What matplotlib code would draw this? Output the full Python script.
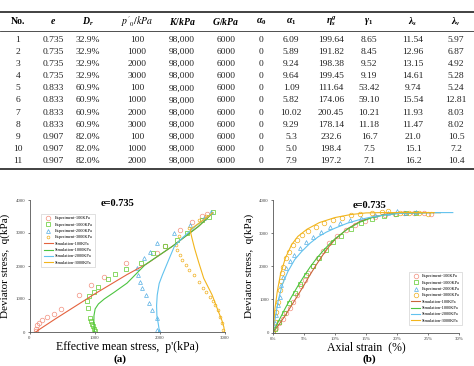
import matplotlib
matplotlib.use("Agg")
import matplotlib.pyplot as plt
from matplotlib.lines import Line2D

plt.rcParams['font.family'] = ['Liberation Serif', 'DejaVu Serif']
plt.rcParams['mathtext.fontset'] = 'custom'
plt.rcParams['mathtext.it'] = 'Liberation Serif:italic:bold'
plt.rcParams['mathtext.rm'] = 'Liberation Serif:bold'
plt.rcParams['mathtext.bf'] = 'Liberation Serif:bold'

# ---------------- table data ----------------
headers = ["No.", r"$e$", r"$D_r$", r"$p'_{0}/kPa$", r"$K/kPa$", r"$G/kPa$",
           r"$\alpha_0$", r"$\alpha_1$", r"$\eta_s^g$", r"$\gamma_1$", r"$\lambda_s$", r"$\lambda_v$"]
col_no = ["1", "2", "3", "4", "5", "6", "7", "8", "9", "10", "11"]
col_e = ["0.735", "0.735", "0.735", "0.735", "0.833", "0.833", "0.833", "0.833", "0.907", "0.907", "0.907"]
col_Dr = ["32.9%", "32.9%", "32.9%", "32.9%", "60.9%", "60.9%", "60.9%", "60.9%", "82.0%", "82.0%", "82.0%"]
col_p0 = ["100", "1000", "2000", "3000", "100", "1000", "2000", "3000", "100", "1000", "2000"]
col_K = ["98,000"] * 11
col_G = ["6000"] * 11
col_a0 = ["0"] * 11
col_a1 = ["6.09", "5.89", "9.24", "9.64", "1.09", "5.82", "10.02", "9.29", "5.3", "5.0", "7.9"]
col_eta = ["199.64", "191.82", "198.38", "199.45", "111.64", "174.06", "200.45", "178.14", "232.6", "198.4", "197.2"]
col_g1 = ["8.65", "8.45", "9.52", "9.19", "53.42", "59.10", "10.21", "11.18", "16.7", "7.5", "7.1"]
col_ls = ["11.54", "12.96", "13.15", "14.61", "9.74", "15.54", "11.93", "11.47", "21.0", "15.1", "16.2"]
col_lv = ["5.97", "6.87", "4.92", "5.28", "5.24", "12.81", "8.03", "8.02", "10.5", "7.2", "10.4"]
columns = [col_no, col_e, col_Dr, col_p0, col_K, col_G, col_a0, col_a1, col_eta, col_g1, col_ls, col_lv]

# ---------------- (a) stress path data ----------------
exp100_p = [100, 105, 115, 140, 190, 270, 370, 480, 760, 950, 1150, 1480, 1960, 2080, 2320, 2500, 2650, 2730]
exp100_q = [30, 100, 200, 280, 360, 460, 560, 710, 1120, 1420, 1660, 2080, 2380, 2620, 3100, 3330, 3520, 3590]
exp1000_p = [1000, 985, 975, 965, 950, 930, 900, 885, 910, 985, 1050, 1200, 1320, 1480, 1720, 1900, 2080, 2270, 2430, 2650, 2760, 2830]
exp1000_q = [20, 90, 170, 250, 330, 430, 720, 930, 1080, 1220, 1370, 1600, 1750, 1900, 2100, 2400, 2620, 2780, 2990, 3390, 3500, 3640]
exp2000_p = [1990, 1966, 1957, 1890, 1840, 1789, 1738, 1702, 1672, 1661, 1763, 1855, 1957, 2221, 2476, 2679, 2791]
exp2000_q = [20, 60, 414, 667, 869, 1121, 1323, 1505, 1727, 1929, 2232, 2434, 2687, 2990, 3242, 3444, 3626]
exp3000_p = [2975, 2959, 2934, 2893, 2858, 2822, 2771, 2720, 2669, 2603, 2527, 2450, 2400, 2348, 2313, 2272, 2247, 2300, 2450, 2600, 2720]
exp3000_q = [60, 263, 465, 667, 818, 939, 1071, 1222, 1323, 1525, 1727, 1879, 2030, 2182, 2333, 2485, 2636, 2900, 3150, 3380, 3520]

sim100_p = [100, 130, 400, 1000, 1500, 1800, 2200, 2600, 2820]
sim100_q = [0, 50, 400, 1150, 1740, 2060, 2600, 3200, 3610]
sim1000_p = [1000, 990, 992, 1010, 1060, 1150, 1300, 1500, 1780, 2200, 2600, 2820]
sim1000_q = [0, 250, 500, 700, 850, 1000, 1200, 1480, 2040, 2600, 3200, 3610]
sim2000_p = [2000, 1985, 1960, 1955, 1965, 1995, 2045, 2140, 2230, 2350, 2550, 2820]
sim2000_q = [0, 200, 500, 800, 1120, 1470, 1730, 2180, 2600, 2850, 3200, 3610]
sim3000_p = [3000, 2990, 2960, 2910, 2810, 2680, 2600, 2540, 2500, 2475, 2490, 2560, 2680, 2820]
sim3000_q = [0, 150, 350, 600, 1120, 1630, 2130, 2530, 2840, 3050, 3130, 3230, 3400, 3610]

# ---------------- (b) stress-strain data ----------------
bexp100_e = [0, 0.5, 1.0, 1.6, 2.1, 2.7, 3.2, 3.9, 4.5, 5.1, 5.7, 6.4, 7.2, 8.1, 9.1, 10.3, 11.7, 13.2, 14.8, 16.4, 18.0, 19.6, 21.2, 22.8, 24.3, 25.5]
bexp100_q = [0, 150, 300, 420, 590, 740, 930, 1140, 1390, 1580, 1800, 2000, 2250, 2450, 2700, 2900, 3080, 3250, 3380, 3480, 3550, 3590, 3620, 3610, 3600, 3580]
bexp1000_e = [0, 0.4, 1.0, 1.8, 2.6, 3.5, 4.4, 5.4, 6.4, 7.4, 8.5, 9.7, 11, 12.6, 14.2, 16, 17.9, 19.8, 21.5, 23.1]
bexp1000_q = [0, 120, 330, 600, 880, 1180, 1460, 1740, 2000, 2240, 2480, 2720, 2920, 3130, 3300, 3430, 3530, 3580, 3600, 3610]
bexp2000_e = [0, 0.3, 0.55, 0.8, 1.1, 1.35, 1.6, 2.1, 2.7, 3.4, 4.3, 5.4, 6.5, 7.8, 9.2, 10.8, 12.4, 14.2, 16.5, 18.5, 20.0, 21.5, 23.0]
bexp2000_q = [0, 280, 530, 830, 1080, 1430, 1690, 1950, 2150, 2330, 2560, 2740, 2890, 3040, 3190, 3300, 3400, 3470, 3560, 3620, 3660, 3620, 3640]
bexp3000_e = [0, 0.25, 0.5, 0.8, 1.05, 1.25, 1.45, 1.65, 2.1, 2.6, 3.2, 3.9, 4.7, 5.7, 6.9, 8.2, 9.6, 11.2, 12.6, 14.0, 16.0, 17.5, 18.6, 20.5, 22.0, 23.5, 25.0]
bexp3000_q = [0, 330, 630, 930, 1290, 1540, 1790, 1990, 2240, 2440, 2640, 2790, 2950, 3070, 3200, 3320, 3400, 3470, 3540, 3580, 3620, 3640, 3680, 3600, 3620, 3600, 3590]

bsim100_e = [0, 1, 2, 3, 4, 5, 6, 7, 8, 9, 10, 12, 14, 16, 18, 20, 22, 25, 27]
bsim100_q = [0, 250, 520, 820, 1120, 1430, 1750, 2050, 2330, 2590, 2810, 3130, 3350, 3480, 3560, 3600, 3610, 3620, 3620]
bsim1000_e = [0, 1, 2, 3, 4, 5, 6, 7, 8, 9, 10, 12, 14, 16, 18, 20, 22, 25, 27]
bsim1000_q = [0, 380, 740, 1080, 1400, 1700, 1980, 2230, 2450, 2650, 2830, 3120, 3330, 3470, 3550, 3590, 3610, 3620, 3620]
bsim2000_e = [0, 0.4, 0.8, 1.5, 2.4, 3.5, 4.6, 6, 7.3, 8.6, 10, 12, 14, 16, 18, 20, 23, 26, 29]
bsim2000_q = [0, 480, 930, 1450, 1840, 2200, 2440, 2700, 2890, 3030, 3150, 3300, 3410, 3490, 3550, 3590, 3610, 3620, 3620]
bsim3000_e = [0, 0.3, 0.7, 1.2, 2.0, 3.0, 4.0, 5.5, 7.5, 10, 12.5, 15, 17.5, 20, 23, 26]
bsim3000_q = [0, 700, 1250, 1750, 2250, 2650, 2900, 3120, 3320, 3470, 3560, 3610, 3620, 3620, 3620, 3620]

exp_labels = ["Experiment-100KPa", "Experiment-1000KPa", "Experiment-2000KPa", "Experiment-3000KPa"]
sim_labels = ["Simulation-100KPa", "Simulation-1000KPa", "Simulation-2000KPa", "Simulation-3000KPa"]

C_RED_M, C_GRN_M, C_BLU_M, C_ORG_M = '#F2907E', '#5CCB2A', '#55AEE3', '#F0B020'
C_RED_L, C_GRN_L, C_BLU_L, C_ORG_L = '#E4623E', '#4CC440', '#62C2EE', '#F2B51C'

W, H = 474, 366
fig = plt.figure(figsize=(W / 100, H / 100), dpi=100)

def fx(x):
    return x / W

def fy(y):
    return 1 - y / H

# table rules
for yy, lw in [(12, 1.3), (30.5, 0.6), (169, 1.3)]:
    fig.add_artist(Line2D([0, 1], [fy(yy), fy(yy)], transform=fig.transFigure,
                          color='#333333', lw=lw))

col_x = [18, 53, 88, 137, 182, 226, 261, 291, 331, 369, 413, 456]
header_y = 21.5
row_y0, row_dy = 40, 12.1
for cx, h in zip(col_x, headers):
    kw = {}
    if h == "No.":
        kw = dict(fontweight='bold')
    elif "p'" in h:
        kw = dict(math_fontfamily='stix')
    fig.text(fx(cx), fy(header_y), h, ha='center', va='center', fontsize=7, **kw)
for ci, col in enumerate(columns):
    for ri, val in enumerate(col):
        fig.text(fx(col_x[ci]), fy(row_y0 + ri * row_dy), val, ha='center', va='center',
                 fontsize=6.8, color='#222222')

def style_axes(ax):
    for s in ['top', 'right']:
        ax.spines[s].set_visible(False)
    for s in ['left', 'bottom']:
        ax.spines[s].set_color('#555555')
        ax.spines[s].set_linewidth(0.6)
    ax.tick_params(labelsize=3.5, length=1.5, width=0.5, pad=1.5, colors='#444444')

# ---------------- (a) ----------------
axa = fig.add_axes([fx(29.5), fy(332), (224.5 - 29.5) / W, (332 - 200) / H])
mk = dict(fillstyle='none', linestyle='none', markeredgewidth=0.5)
axa.plot(exp100_p, exp100_q, marker='o', ms=3.3, color=C_RED_M, label=exp_labels[0], **mk)
axa.plot(exp1000_p, exp1000_q, marker='s', ms=3.0, color=C_GRN_M, label=exp_labels[1], **mk)
axa.plot(exp2000_p, exp2000_q, marker='^', ms=2.8, color=C_BLU_M, label=exp_labels[2], **mk)
axa.plot(exp3000_p, exp3000_q, marker='o', ms=2.0, color=C_ORG_M, label=exp_labels[3], **mk)
axa.plot(sim100_p, sim100_q, color=C_RED_L, lw=0.8, label=sim_labels[0])
axa.plot(sim1000_p, sim1000_q, color=C_GRN_L, lw=0.8, label=sim_labels[1])
axa.plot(sim2000_p, sim2000_q, color=C_BLU_L, lw=0.8, label=sim_labels[2])
axa.plot(sim3000_p, sim3000_q, color=C_ORG_L, lw=0.8, label=sim_labels[3])
axa.set_xlim(0, 3000)
axa.set_ylim(0, 4000)
axa.set_xticks([0, 1000, 2000, 3000])
axa.set_yticks([0, 1000, 2000, 3000, 4000])
style_axes(axa)
axa.set_xlabel("Effective mean stress,  p'(kPa)", fontsize=8.5, labelpad=0.5)
axa.set_ylabel("Deviator stress,  q(kPa)", fontsize=8, labelpad=4)
axa.text(0.45, 0.97, "e=0.735", transform=axa.transAxes, ha='center', va='center',
         fontsize=7.5, fontweight='bold')
lega = axa.legend(loc='upper left', bbox_to_anchor=(0.05, 0.91), fontsize=3.2, frameon=True,
                  fancybox=False, edgecolor='#bbbbbb', handlelength=2.0, handletextpad=0.4,
                  labelspacing=0.5, borderpad=0.5)
lega.get_frame().set_linewidth(0.4)
fig.text(fx(120), fy(359.5), "(a)", ha='center', va='center', fontsize=8, fontweight='bold')

# ---------------- (b) ----------------
axb = fig.add_axes([fx(273), fy(332.5), (459 - 273) / W, (332.5 - 200) / H])
axb.plot(bexp100_e, bexp100_q, marker='o', ms=3.3, color=C_RED_M, label=exp_labels[0], **mk)
axb.plot(bexp1000_e, bexp1000_q, marker='s', ms=3.0, color=C_GRN_M, label=exp_labels[1], **mk)
axb.plot(bexp2000_e, bexp2000_q, marker='^', ms=2.8, color=C_BLU_M, label=exp_labels[2], **mk)
axb.plot(bexp3000_e, bexp3000_q, marker='o', ms=3.3, color=C_ORG_M, label=exp_labels[3], **mk)
axb.plot(bsim100_e, bsim100_q, color='#C8663A', lw=0.8, label=sim_labels[0])
axb.plot(bsim1000_e, bsim1000_q, color=C_GRN_L, lw=0.8, label=sim_labels[1])
axb.plot(bsim2000_e, bsim2000_q, color=C_BLU_L, lw=0.8, label=sim_labels[2])
axb.plot(bsim3000_e, bsim3000_q, color=C_ORG_L, lw=0.8, label=sim_labels[3])
axb.set_xlim(0, 30)
axb.set_ylim(0, 4000)
axb.set_xticks([0, 5, 10, 15, 20, 25, 30])
axb.set_xticklabels(["0%", "5%", "10%", "15%", "20%", "25%", "30%"])
axb.set_yticks([0, 1000, 2000, 3000, 4000])
style_axes(axb)
axb.set_xlabel("Axial strain  (%)", fontsize=8.5, labelpad=0.5)
axb.set_ylabel("Deviator stress,  q(kPa)", fontsize=8, labelpad=4)
axb.text(0.52, 0.96, "e=0.735", transform=axb.transAxes, ha='center', va='center',
         fontsize=7.5, fontweight='bold')
legb = axb.legend(loc='lower right', bbox_to_anchor=(1.03, 0.04), fontsize=3.2, frameon=True,
                  fancybox=False, edgecolor='#bbbbbb', handlelength=2.0, handletextpad=0.4,
                  labelspacing=0.5, borderpad=0.5)
legb.get_frame().set_linewidth(0.4)
fig.text(fx(369), fy(359.5), "(b)", ha='center', va='center', fontsize=8, fontweight='bold')

fig.savefig("out.png", dpi=100)
